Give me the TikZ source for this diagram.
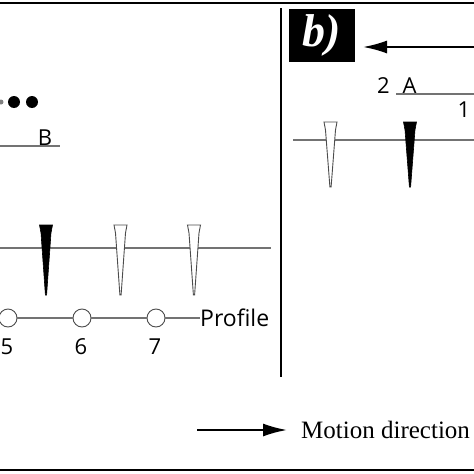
\documentclass[tikz,border=0pt]{standalone}
\usepackage{fontspec}
\setmainfont{Liberation Serif}
\newfontfamily\labfont{Open Sans}
\usetikzlibrary{arrows.meta}
\tikzset{
  grayline/.style={draw=black!55, line width=1.2pt},
  frame/.style={draw=black, line width=2pt},
  lab/.style={font=\labfont\fontsize{22}{22}\selectfont, inner sep=0pt},
  spk/.pic={\path[pic actions] (-6.5,0) -- (6.5,0) -- (5,8) -- (0.6,#1) -- (-0.6,#1) -- (-5,8) -- cycle;},
  hollow/.style={draw=black!70, fill=white, line width=0.9pt},
  solid/.style={draw=black, fill=black, line width=0.6pt},
  ring/.style={circle, draw=black!70, fill=white, line width=0.9pt, minimum size=18pt, inner sep=0pt},
  dot/.style={circle, fill=black, minimum size=12pt, inner sep=0pt},
  bigarrow/.style={line width=2pt, -{Latex[length=24pt, width=13pt]}}
}
\begin{document}
\begin{tikzpicture}[x=1pt, y=-1pt]
\useasboundingbox (0,0) rectangle (474,474);
\clip (0,0) rectangle (474,474);
% frame lines
\coordinate (tl) at (0,3); \coordinate (tr) at (474,3);
\coordinate (bl) at (0,470); \coordinate (br) at (474,470);
\draw[frame] (tl) -- (tr);
\draw[frame] (bl) -- (br);
\coordinate (dtop) at (281,8); \coordinate (dbot) at (281,377);
\draw[black, line width=2.5pt] (dtop) -- (dbot);
% left panel
\node[dot, fill=black!50, minimum size=5pt] (d0) at (1,102) {};
\node[dot] (d1) at (14,102) {};
\node[dot] (d2) at (32,102) {};
\coordinate (bl0) at (0,146); \coordinate (bl1) at (60,146);
\draw[grayline] (bl0) -- (bl1);
\node[lab, anchor=base] (B) at (45,145) {B};
\coordinate (g0) at (0,248); \coordinate (g1) at (271,248);
\draw[grayline] (g0) -- (g1);
\pic[solid] at (46,225) {spk=70};
\pic[hollow] at (120.5,225) {spk=70};
\pic[hollow] at (194,225) {spk=70};
\coordinate (p0) at (0,318);
\node[ring] (c5) at (8,318) {};
\node[ring] (c6) at (82,318) {};
\node[ring] (c7) at (156,318) {};
\node[lab, font=\labfont\fontsize{23}{23}\selectfont, anchor=west] (prof) at (200,318) {Profile};
\draw[grayline] (p0) -- (c5) -- (c6) -- (c7) -- (prof);
\node[lab, anchor=base] (n5) at (7,354) {5};
\node[lab, anchor=base] (n6) at (81,354) {6};
\node[lab, anchor=base] (n7) at (155,354) {7};
% right panel
\node[fill=black, text=white, minimum width=66pt, minimum height=53pt, inner sep=0pt,
      font=\bfseries\itshape\fontsize{46}{46}\selectfont] (bbox) at (322,35.5) {b)};
\coordinate (aR) at (474,47); \coordinate (aL) at (363,47);
\draw[bigarrow] (aR) -- (aL);
\node[lab, anchor=base] (n2) at (383.5,93) {2};
\node[lab, anchor=base] (A) at (409.5,93) {A};
\coordinate (al0) at (396,94); \coordinate (al1) at (474,94);
\draw[grayline] (al0) -- (al1);
\node[lab, anchor=base] (n1) at (464,117) {1};
\coordinate (r0) at (293,140); \coordinate (r1) at (474,140);
\draw[grayline] (r0) -- (r1);
\pic[hollow] at (330.5,122) {spk=65};
\pic[solid] at (410,122) {spk=65};
% motion direction
\coordinate (m0) at (197,430); \coordinate (m1) at (287,430);
\draw[bigarrow] (m0) -- (m1);
\node[font=\fontsize{25}{25}\selectfont, anchor=west, inner sep=0pt] (mot) at (301,430) {Motion direction};
\end{tikzpicture}
\end{document}
